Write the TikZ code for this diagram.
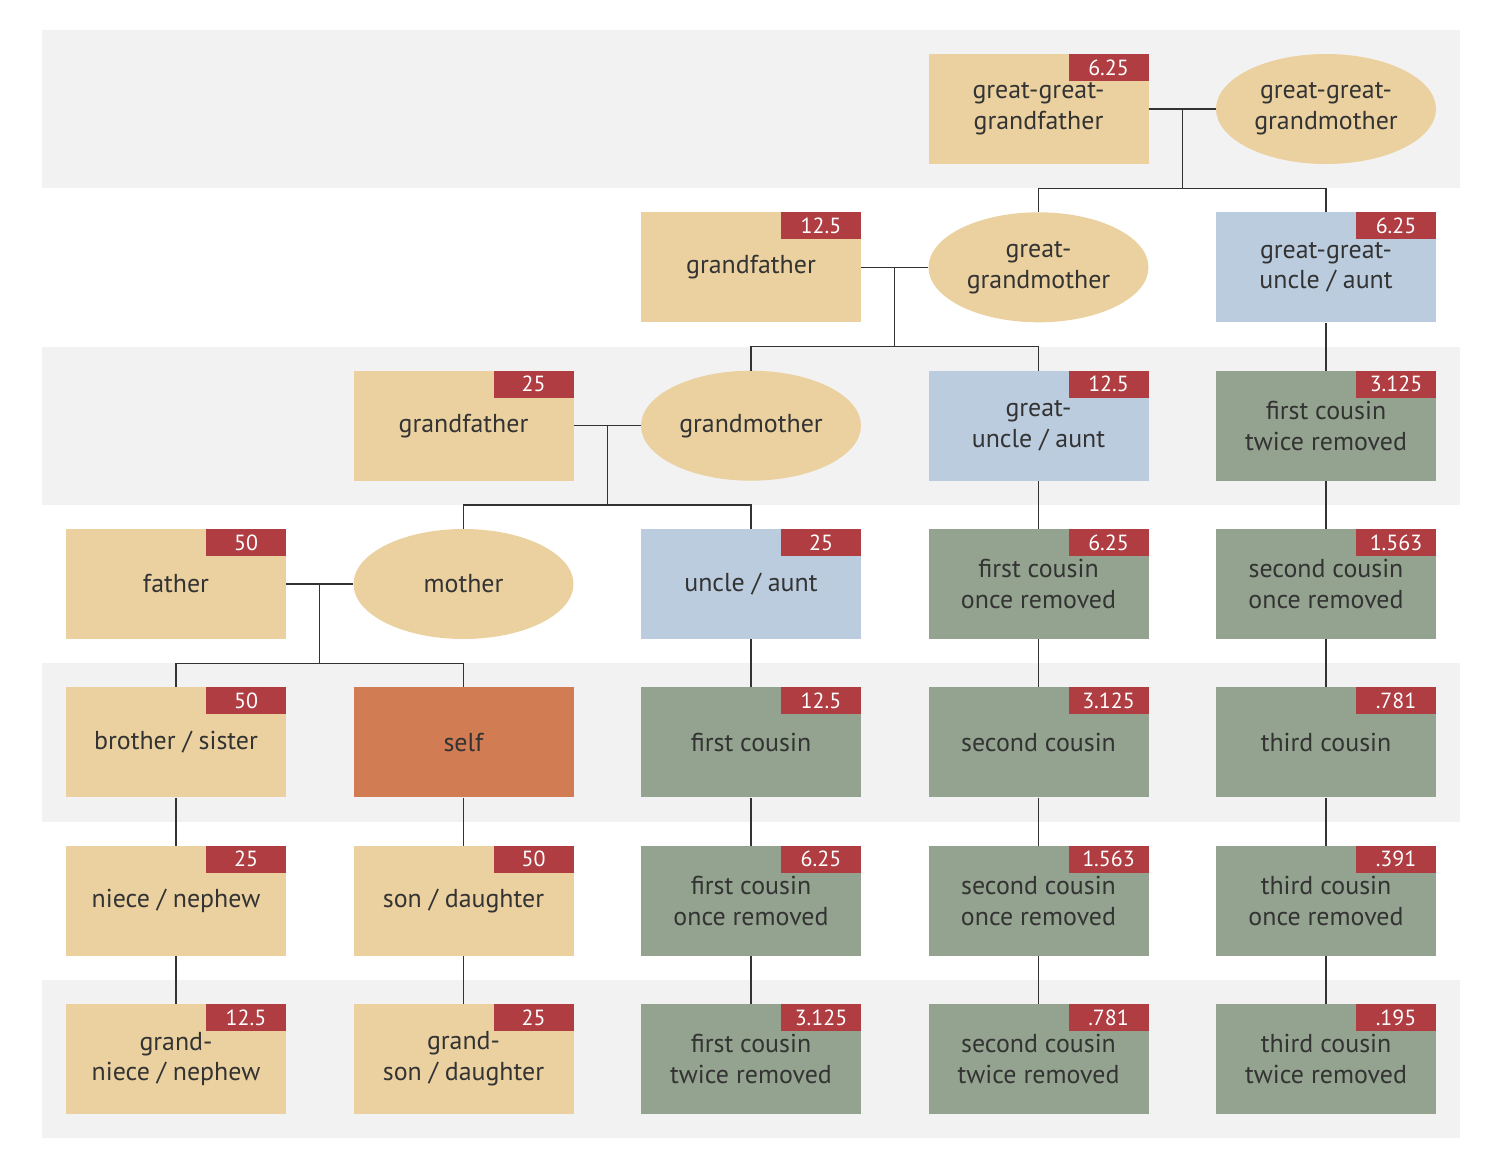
\documentclass[tikz,border=0pt]{standalone}
\usepackage{fontspec}
\setmainfont{PT Sans}
\usetikzlibrary{shapes.geometric,calc}
\definecolor{tan}{HTML}{EBD1A0}
\definecolor{badgered}{HTML}{B03D42}
\definecolor{bluebox}{HTML}{BCCCDF}
\definecolor{greenbox}{HTML}{94A38F}
\definecolor{selfbox}{HTML}{D17C53}
\definecolor{bandgray}{HTML}{F2F2F2}
\definecolor{ink}{HTML}{333333}
\tikzset{
  base/.style={minimum width=220bp, minimum height=110bp, inner sep=0pt, align=center, text=ink,
    font=\fontsize{26}{31}\selectfont},
  tanbox/.style={base, rectangle, fill=tan},
  bluebx/.style={base, rectangle, fill=bluebox},
  greenbx/.style={base, rectangle, fill=greenbox},
  selfbx/.style={base, rectangle, fill=selfbox},
  wife/.style={base, ellipse, fill=tan},
  badge/.style={rectangle, fill=badgered, text=white, minimum width=80bp, minimum height=27bp, inner sep=0pt,
    anchor=north east, font=\fontsize{22}{24}\selectfont},
  link/.style={draw=ink, line width=1.3bp},
  band/.style={fill=bandgray, draw=none}
}
\newcommand{\person}[6]{%
  \node[#1] (#2) at (#3,#4) {#5};
  \node[badge] (#2b) at (#2.north east) {#6};
}
\begin{document}
\begin{tikzpicture}[x=1bp,y=-1bp]
\useasboundingbox (0,0) rectangle (1500,1168);
% bands
\fill[band] (42,30) rectangle (1460,188.3);
\fill[band] (42,346.7) rectangle (1460,505);
\fill[band] (42,663.3) rectangle (1460,821.7);
\fill[band] (42,980) rectangle (1460,1138.3);
% row 1
\person{tanbox}{ggf}{1038.5}{109}{great-great-\\grandfather}{6.25}
\node[wife] (ggm) at (1326,109) {great-great-\\grandmother};
% row 2
\person{tanbox}{gf1}{751}{267.3}{grandfather}{12.5}
\node[wife] (gm1) at (1038.5,267.3) {great-\\grandmother};
\person{bluebx}{ggu}{1326}{267.3}{great-great-\\uncle / aunt}{6.25}
% row 3
\person{tanbox}{gf2}{463.5}{425.7}{grandfather}{25}
\node[wife] (gm2) at (751,425.7) {grandmother};
\person{bluebx}{gu}{1038.5}{425.7}{great-\\uncle / aunt}{12.5}
\person{greenbx}{fc2a}{1326}{425.7}{first cousin\\twice removed}{3.125}
% row 4
\person{tanbox}{fa}{176}{584}{father}{50}
\node[wife] (mo) at (463.5,584) {mother};
\person{bluebx}{ua}{751}{584}{uncle / aunt}{25}
\person{greenbx}{fc1a}{1038.5}{584}{first cousin\\once removed}{6.25}
\person{greenbx}{sc1a}{1326}{584}{second cousin\\once removed}{1.563}
% row 5
\person{tanbox}{bs}{176}{742.3}{brother / sister}{50}
\node[selfbx] (self) at (463.5,742.3) {self};
\person{greenbx}{fc}{751}{742.3}{first cousin}{12.5}
\person{greenbx}{sc}{1038.5}{742.3}{second cousin}{3.125}
\person{greenbx}{tc}{1326}{742.3}{third cousin}{.781}
% row 6
\person{tanbox}{nn}{176}{900.7}{niece / nephew}{25}
\person{tanbox}{sd}{463.5}{900.7}{son / daughter}{50}
\person{greenbx}{fc1b}{751}{900.7}{first cousin\\once removed}{6.25}
\person{greenbx}{sc1b}{1038.5}{900.7}{second cousin\\once removed}{1.563}
\person{greenbx}{tc1b}{1326}{900.7}{third cousin\\once removed}{.391}
% row 7
\person{tanbox}{gnn}{176}{1059}{grand-\\niece / nephew}{12.5}
\person{tanbox}{gsd}{463.5}{1059}{grand-\\son / daughter}{25}
\person{greenbx}{fc2b}{751}{1059}{first cousin\\twice removed}{3.125}
\person{greenbx}{sc2b}{1038.5}{1059}{second cousin\\twice removed}{.781}
\person{greenbx}{tc2b}{1326}{1059}{third cousin\\twice removed}{.195}
% couples and children
\draw[link] (ggf.east) -- (ggm.west);
\coordinate (j1) at ($(ggf.east)!0.5!(ggm.west)$);
\coordinate (h1) at ($(j1)+(0,79.3)$);
\draw[link] (j1) -- (h1);
\draw[link] (gm1.north) |- (h1) -| (ggu.north);

\draw[link] (gf1.east) -- (gm1.west);
\coordinate (j2) at ($(gf1.east)!0.5!(gm1.west)$);
\coordinate (h2) at ($(j2)+(0,79.4)$);
\draw[link] (j2) -- (h2);
\draw[link] (gm2.north) |- (h2) -| (gu.north);

\draw[link] (gf2.east) -- (gm2.west);
\coordinate (j3) at ($(gf2.east)!0.5!(gm2.west)$);
\coordinate (h3) at ($(j3)+(0,79.3)$);
\draw[link] (j3) -- (h3);
\draw[link] (mo.north) |- (h3) -| (ua.north);

\draw[link] (fa.east) -- (mo.west);
\coordinate (j4) at ($(fa.east)!0.5!(mo.west)$);
\coordinate (h4) at ($(j4)+(0,79.3)$);
\draw[link] (j4) -- (h4);
\draw[link] (bs.north) |- (h4) -| (self.north);
% descent lines
\draw[link] (ggu.south) -- (fc2a.north);
\draw[link] (fc2a.south) -- (sc1a.north);
\draw[link] (sc1a.south) -- (tc.north);
\draw[link] (tc.south) -- (tc1b.north);
\draw[link] (tc1b.south) -- (tc2b.north);
\draw[link] (gu.south) -- (fc1a.north);
\draw[link] (fc1a.south) -- (sc.north);
\draw[link] (sc.south) -- (sc1b.north);
\draw[link] (sc1b.south) -- (sc2b.north);
\draw[link] (ua.south) -- (fc.north);
\draw[link] (fc.south) -- (fc1b.north);
\draw[link] (fc1b.south) -- (fc2b.north);
\draw[link] (bs.south) -- (nn.north);
\draw[link] (nn.south) -- (gnn.north);
\draw[link] (self.south) -- (sd.north);
\draw[link] (sd.south) -- (gsd.north);
\end{tikzpicture}
\end{document}
